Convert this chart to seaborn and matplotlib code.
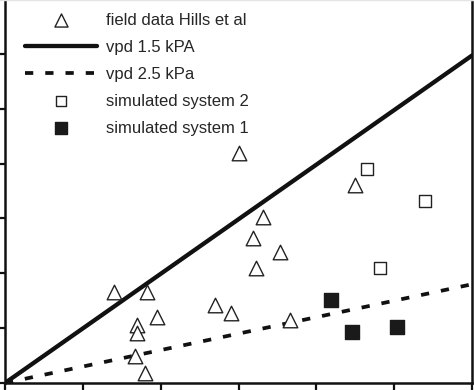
import numpy as np
import pandas as pd
import matplotlib
matplotlib.use('Agg')
import matplotlib.pyplot as plt
import seaborn as sns

# field data (triangles)
field_x = [3.01, 3.32, 3.19, 3.53, 3.23, 4.50, 1.40, 1.83, 1.95, 1.70, 1.70, 1.67, 1.80, 2.70, 2.90, 3.66]
field_y = [4.19, 3.02, 2.64, 2.39, 2.09, 3.61, 1.66, 1.66, 1.20, 1.06, 0.91, 0.49, 0.18, 1.42, 1.27, 1.15]
# simulated system 2 (open squares)
sim2_x = [4.65, 5.40, 4.82]
sim2_y = [3.90, 3.32, 2.09]
# simulated system 1 (filled squares)
sim1_x = [4.19, 4.46, 5.03]
sim1_y = [1.51, 0.93, 1.02]
# vpd lines
line_x = [0, 6]
vpd15_y = [0, 5.97]
vpd25_y = [0, 1.8]

labels = ['field data Hills et al', 'vpd 1.5 kPA', 'vpd 2.5 kPa',
          'simulated system 2', 'simulated system 1']

sns.set_style('ticks')
plt.rcParams['font.family'] = ['Liberation Sans', 'DejaVu Sans']

fig = plt.figure(figsize=(4.74, 3.9), dpi=100)
ax = fig.add_axes([5 / 474, 7 / 390, 467 / 474, 384 / 390])

sns.lineplot(x=line_x, y=vpd15_y, ax=ax, color='#111111', lw=3.1)
ax.lines[-1].set_label(labels[1])
sns.lineplot(x=line_x, y=vpd25_y, ax=ax, color='#111111', lw=2.7)
ax.lines[-1].set_linestyle((0, (2.2, 3.2)))
ax.lines[-1].set_label(labels[2])

sns.scatterplot(x=field_x, y=field_y, ax=ax, marker='^', s=110,
                facecolor='white', edgecolor='#222222', linewidth=1.0,
                label=labels[0], zorder=3)
sns.scatterplot(x=sim2_x, y=sim2_y, ax=ax, marker='s', s=75,
                facecolor='white', edgecolor='#222222', linewidth=1.0,
                label=labels[3], zorder=3)
sns.scatterplot(x=sim1_x, y=sim1_y, ax=ax, marker='s', s=90,
                facecolor='#1a1a1a', edgecolor='#1a1a1a', linewidth=1.0,
                label=labels[4], zorder=3)

ax.set_xlim(0, 6)
ax.set_ylim(0, 7)
ax.set_xticks(np.arange(0, 7, 1))
ax.set_yticks(np.arange(0, 8, 1))
ax.set_xticklabels([])
ax.set_yticklabels([])
ax.tick_params(direction='out', length=8, width=1.6, colors='#111111')
ax.tick_params(axis='y', right=False)

for s in ['left', 'bottom', 'right']:
    ax.spines[s].set_visible(True)
    ax.spines[s].set_linewidth(1.8)
    ax.spines[s].set_color('#111111')
ax.spines['top'].set_color('#e4e4e4')
ax.spines['top'].set_linewidth(2.5)

h, lab = ax.get_legend_handles_labels()
order = [lab.index(t) for t in labels]
ax.legend([h[i] for i in order], [lab[i] for i in order],
          loc='upper left', bbox_to_anchor=(0.043, 0.964),
          frameon=False, fontsize=12, handlelength=4.3, handletextpad=0.55,
          labelspacing=0.72, borderpad=0, borderaxespad=0, markerscale=0.9)

fig.savefig('out.png', dpi=100)
